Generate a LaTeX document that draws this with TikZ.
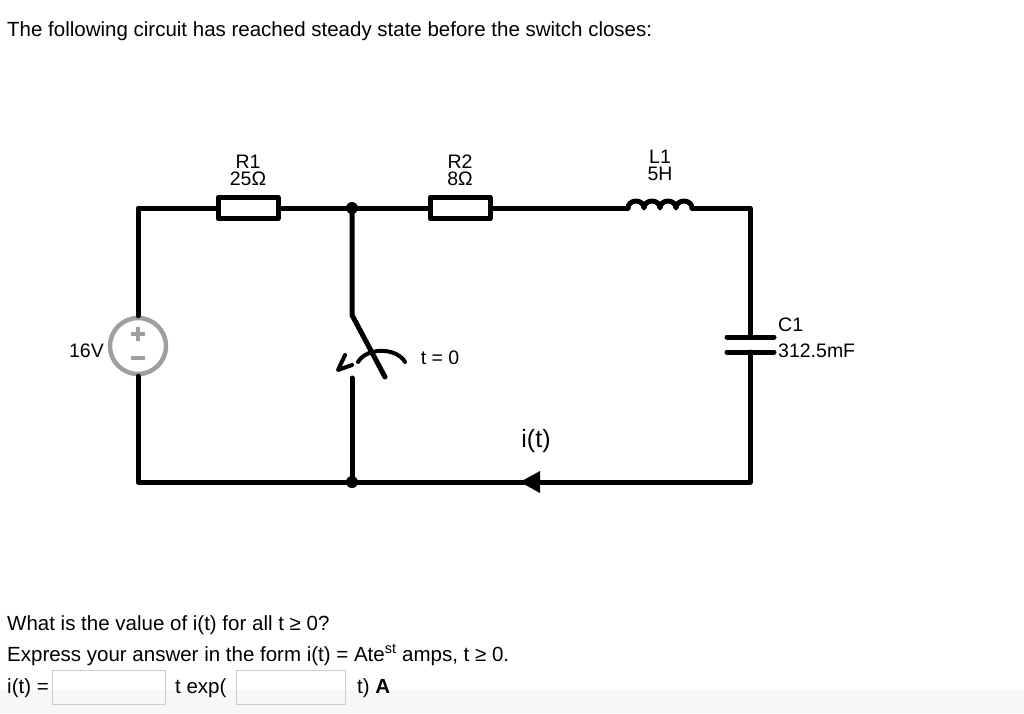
\documentclass[tikz,border=0pt]{standalone}
\usepackage{fontspec}
\setmainfont{Liberation Sans}
\begin{document}
\begin{tikzpicture}[x=1pt,y=-1pt,
  w/.style={line width=5pt,line cap=round,line join=round},
  lbl/.style={inner sep=0pt,font=\fontsize{19.5}{19.5}\selectfont},
  txt/.style={inner sep=0pt,anchor=west,font=\fontsize{20.5}{22}\selectfont},
  box/.style={draw=black!20,line width=0.8pt}]
\useasboundingbox (0,0) rectangle (1024,713);
\fill[white] (0,0) rectangle (1024,713);
\fill[black!3] (0,690) rectangle (1024,713);
\coordinate (tl) at (138,208); \coordinate (tj) at (352,208);
\coordinate (tr) at (750,208); \coordinate (br) at (750,482);
\coordinate (bj) at (352,482); \coordinate (bl) at (138,482);
\coordinate (sw1) at (352,315); \coordinate (sw2) at (352,378);
\node[w,draw,minimum width=60pt,minimum height=21pt,inner sep=0pt] (R1) at (248,208) {};
\node[w,draw,minimum width=60pt,minimum height=21pt,inner sep=0pt] (R2) at (460,208) {};
\node[draw=gray!75,line width=4.5pt,circle,minimum size=56pt,inner sep=0pt] (V) at (138,346) {};
\draw[gray!75,line width=4.5pt] (131,334)--(145,334) (138,327)--(138,341) (131,358)--(145,358);
% wires
\draw[w] (V.north) -- (tl) -- (R1.west);
\draw[w] (R1.east) -- (tj) -- (R2.west);
\draw[w] (R2.east) -- (628,208);
\draw[w] (628,208) arc(180:360:8 and 7) arc(180:360:8 and 7) arc(180:360:8 and 7) arc(180:360:8 and 7);
\draw[w] (692,208) -- (tr) -- (750,337);
\draw[w] (727,337) -- (774,337) (727,352) -- (774,352);
\draw[w] (750,352) -- (br) -- (bj) -- (bl) -- (V.south);
\draw[w] (tj) -- (sw1) -- (385,377);
\draw[w] (sw2) -- (bj);
\fill (tj) circle (6); \fill (bj) circle (6);
\draw[w,line width=4pt] (405,362) arc(-20:-160:25 and 17);
\draw[w,line width=4pt] (345,355) -- (338,370) -- (352,365);
\fill (520,482) -- (540,471) -- (540,493) -- cycle;
% labels
\node[lbl] (l1) at (248,162) {R1};
\node[lbl] (l2) at (248,179) {25Ω};
\node[lbl] (l3) at (460,162) {R2};
\node[lbl] (l4) at (460,179) {8Ω};
\node[lbl] (l5) at (660,157) {L1};
\node[lbl] (l6) at (660,174) {5H};
\node[lbl,anchor=west] (l7) at (778,325) {C1};
\node[lbl,anchor=west] (l8) at (778,351) {312.5mF};
\node[lbl,anchor=east] (l9) at (104,351) {16V};
\node[lbl] (l10) at (440,358) {t = 0};
\node[inner sep=0pt,font=\fontsize{25}{25}\selectfont] (l11) at (536,441) {i(t)};
\node[txt] (t0) at (7,31) {The following circuit has reached steady state before the switch closes:};
\node[txt] (t1) at (7,625) {What is the value of i(t) for all t ≥ 0?};
\node[txt] (t2) at (7,655) {Express your answer in the form i(t) = Ate\textsuperscript{st} amps, t ≥ 0.};
\node[txt] (t3) at (7,688) {i(t) =};
\draw[box] (52,670) rectangle (165,704);
\node[txt] (t4) at (175,688) {t exp(};
\draw[box] (236,670) rectangle (345,704);
\node[txt] (t5) at (357,688) {t) \textbf{A}};
\end{tikzpicture}
\end{document}
